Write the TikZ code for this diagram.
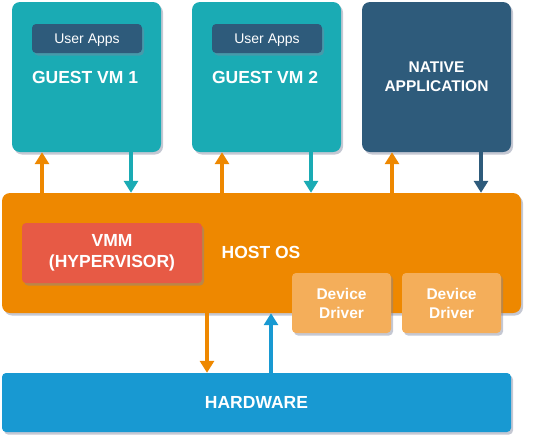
\documentclass[tikz,border=0pt]{standalone}
\usepackage{fontspec}
\setmainfont{Liberation Sans}
\usetikzlibrary{arrows.meta,shadows}
\definecolor{tealc}{HTML}{1AABB4}
\definecolor{navyc}{HTML}{2E5B7B}
\definecolor{orangec}{HTML}{EE8800}
\definecolor{redc}{HTML}{E75A45}
\definecolor{lorangec}{HTML}{F4AE5A}
\definecolor{hwblue}{HTML}{1899D2}
\definecolor{shadowc}{HTML}{7E849E}
\tikzset{
  shad/.style={drop shadow={shadow xshift=2pt,shadow yshift=-2.5pt,fill=shadowc,opacity=0.45}},
  bigbox/.style={rectangle,rounded corners=8pt,shad,inner sep=0pt,text=white,font=\bfseries\fontsize{17}{20}\selectfont,align=center},
  smallbox/.style={rectangle,rounded corners=4pt,shad,inner sep=0pt,text=white,align=center},
  lbl/.style={text=white,font=\bfseries\fontsize{17.5}{20}\selectfont,align=center,inner sep=0pt},
  arr/.style={line width=3.2pt,-{Triangle[width=14pt,length=12pt]}},
}
\begin{document}
\begin{tikzpicture}[x=1pt,y=-1pt]
\useasboundingbox (0,0) rectangle (534,445);
% boxes
\node[bigbox,fill=tealc,minimum width=149pt,minimum height=150pt] (vm1) at (86.5,77) {};
\node[bigbox,fill=tealc,minimum width=149pt,minimum height=150pt] (vm2) at (266.5,77) {};
\node[bigbox,fill=navyc,minimum width=149pt,minimum height=150pt,font=\bfseries\fontsize{15.5}{19}\selectfont] (nat) at (436.5,77) {NATIVE\\APPLICATION};
\node[smallbox,fill=navyc,minimum width=110pt,minimum height=29pt,text height=10pt,text depth=0pt,font=\fontsize{14}{16}\selectfont] (ua1) at (87,38.5) {User Apps};
\node[smallbox,fill=navyc,minimum width=110pt,minimum height=29pt,text height=10pt,text depth=0pt,font=\fontsize{14}{16}\selectfont] (ua2) at (267,38.5) {User Apps};
\node[lbl] (g1) at (85,77) {GUEST VM 1};
\node[lbl] (g2) at (265,77) {GUEST VM 2};
\node[bigbox,fill=orangec,minimum width=519pt,minimum height=120pt] (host) at (261.5,253) {};
\node[smallbox,fill=redc,minimum width=180pt,minimum height=60pt,font=\bfseries\fontsize{17.5}{21}\selectfont] (vmm) at (112,253) {VMM\\(HYPERVISOR)};
\node[lbl] (hostlbl) at (261,252) {HOST OS};
\node[smallbox,fill=lorangec,minimum width=99pt,minimum height=60pt,font=\bfseries\fontsize{15.5}{19}\selectfont] (dd1) at (341.5,303) {Device\\Driver};
\node[smallbox,fill=lorangec,minimum width=99pt,minimum height=60pt,font=\bfseries\fontsize{15.5}{19}\selectfont] (dd2) at (451.5,303) {Device\\Driver};
\node[bigbox,fill=hwblue,rounded corners=4pt,minimum width=509pt,minimum height=59pt,font=\bfseries\fontsize{17.5}{20}\selectfont] (hw) at (256.5,402.5) {HARDWARE};
% arrow x positions
\coordinate (a1) at (42,0);
\coordinate (a2) at (131,0);
\coordinate (a3) at (222,0);
\coordinate (a4) at (311,0);
\coordinate (a5) at (392,0);
\coordinate (a6) at (481,0);
\coordinate (a7) at (207,0);
\coordinate (a8) at (271,0);
\draw[arr,orangec] (host.north -| a1) -- (vm1.south -| a1);
\draw[arr,tealc] (vm1.south -| a2) -- (host.north -| a2);
\draw[arr,orangec] (host.north -| a3) -- (vm2.south -| a3);
\draw[arr,tealc] (vm2.south -| a4) -- (host.north -| a4);
\draw[arr,orangec] (host.north -| a5) -- (nat.south -| a5);
\draw[arr,navyc] (nat.south -| a6) -- (host.north -| a6);
\draw[arr,orangec] (host.south -| a7) -- (hw.north -| a7);
\draw[arr,hwblue] (hw.north -| a8) -- (host.south -| a8);
\end{tikzpicture}
\end{document}
